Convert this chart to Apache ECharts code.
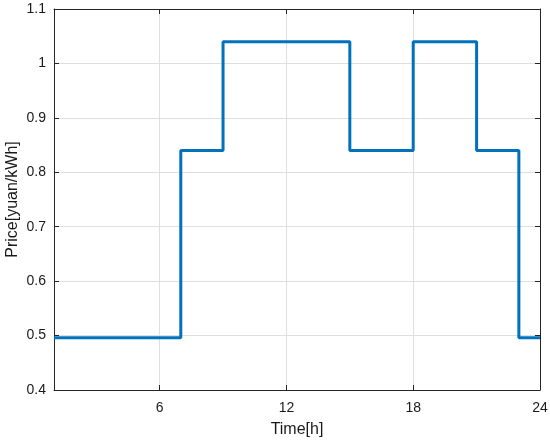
<!DOCTYPE html>
<html><head><meta charset="utf-8">
<script src="https://cdn.jsdelivr.net/npm/echarts@6/dist/echarts.min.js"></script>
<style>html,body{margin:0;padding:0;background:#fff}#c{width:550px;height:442px}</style>
</head><body><div id="c"></div>
<script>
const hours = [1, 7, 9, 15, 18, 21, 23, 24];
const prices = [0.4958, 0.84, 1.04, 0.84, 1.04, 0.84, 0.4958, 0.4958];
const xTicks = [6, 12, 18, 24];
const yTicks = [0.4, 0.5, 0.6, 0.7, 0.8, 0.9, 1, 1.1];

const chart = echarts.init(document.getElementById('c'));
const ff = 'Liberation Sans, Arial, sans-serif';
const axColor = '#262626';
const baseX = {
  type: 'value', min: 1, max: 24, interval: 6,
  axisLine: {show: true, onZero: false, lineStyle: {color: axColor, width: 1}},
  axisTick: {show: true, inside: true, length: 5, lineStyle: {color: axColor}},
  splitLine: {show: false}
};
const baseY = {
  type: 'value', min: 0.4, max: 1.1, interval: 0.1,
  axisLine: {show: true, onZero: false, lineStyle: {color: axColor, width: 1}},
  axisTick: {show: true, inside: true, length: 5, lineStyle: {color: axColor}},
  splitLine: {show: false}
};
chart.setOption({
  animation: false,
  backgroundColor: '#fff',
  grid: {left: 54, right: 10, top: 9, bottom: 52, containLabel: false, outerBoundsMode: 'none'},
  xAxis: [
    Object.assign({}, baseX, {
      position: 'bottom',
      customValues: xTicks,
      axisTick: {show: true, inside: true, length: 5, lineStyle: {color: axColor}, customValues: xTicks},
      axisLabel: {show: true, color: '#1a1a1a', fontFamily: ff, fontSize: 14, margin: 11, customValues: xTicks,
        formatter: v => xTicks.includes(v) ? String(v) : ''},
      splitLine: {show: true, lineStyle: {color: '#dfdfdf', width: 1}},
      name: 'Time[h]', nameLocation: 'middle', nameGap: 32, nameMoveOverlap: false,
      nameTextStyle: {color: '#1a1a1a', fontFamily: ff, fontSize: 16}
    }),
    Object.assign({}, baseX, {
      position: 'top',
      axisTick: {show: true, inside: true, length: 5, lineStyle: {color: axColor}, customValues: xTicks},
      axisLabel: {show: false}
    })
  ],
  yAxis: [
    Object.assign({}, baseY, {
      position: 'left',
      axisLabel: {show: true, color: '#1a1a1a', fontFamily: ff, fontSize: 14, margin: 8,
        formatter: v => String(Math.round(v * 10) / 10)},
      splitLine: {show: true, lineStyle: {color: '#dfdfdf', width: 1}},
      name: 'Price[yuan/kWh]', nameLocation: 'middle', nameGap: 33, nameMoveOverlap: false,
      nameTextStyle: {color: '#1a1a1a', fontFamily: ff, fontSize: 16}
    }),
    Object.assign({}, baseY, {
      position: 'right',
      axisLabel: {show: false}
    })
  ],
  series: [{
    type: 'line', step: 'end', xAxisIndex: 0, yAxisIndex: 0,
    data: hours.map((h, i) => [h, prices[i]]),
    showSymbol: false, symbol: 'none',
    lineStyle: {color: '#0072BD', width: 3},
    clip: false
  }]
});
</script></body></html>
